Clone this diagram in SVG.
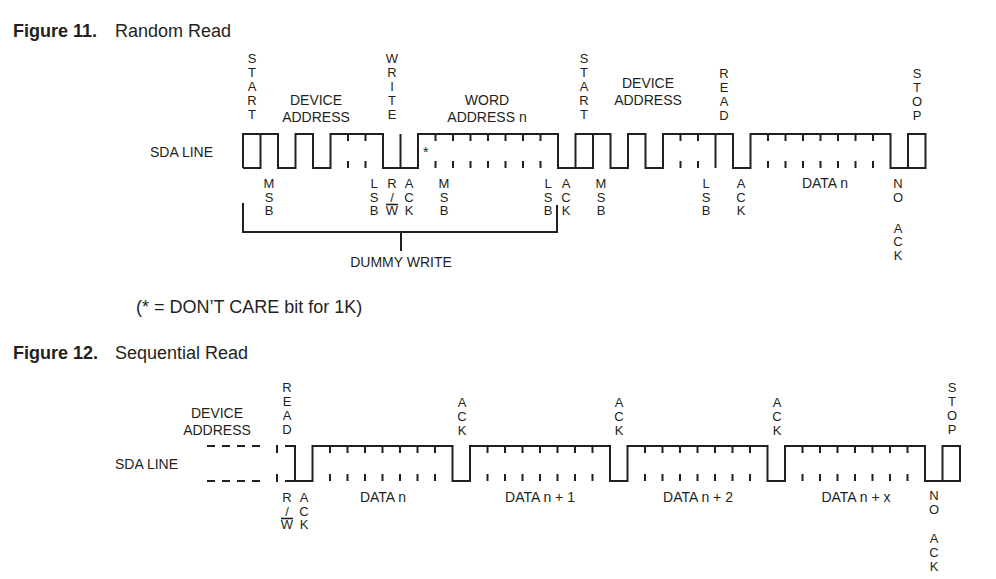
<svg xmlns="http://www.w3.org/2000/svg" width="996" height="579" viewBox="0 0 996 579">
<style>
text{font-family:"Liberation Sans",Arial,sans-serif;fill:#231f20}
.t{font-size:18px}
.b{font-weight:bold}
.l{font-size:14px}
.v{font-size:13px;text-anchor:middle}
.m{text-anchor:middle}
.sig{fill:none;stroke:#231f20;stroke-width:2}
.thin{fill:none;stroke:#231f20;stroke-width:2}
.dash{fill:none;stroke:#231f20;stroke-width:2;stroke-dasharray:8 7}
</style>
<rect width="996" height="579" fill="#fff"/>
<g id="titles">
<text class="t" x="13" y="37"><tspan class="b">Figure 11.</tspan><tspan x="115">Random Read</tspan></text>
<text class="t" x="136" y="313">(* = DON’T CARE bit for 1K)</text>
<text class="t" x="13" y="359"><tspan class="b">Figure 12.</tspan><tspan x="115">Sequential Read</tspan></text>
</g>
<g id="fig11-signal">
<path class="sig" d="M243 168V134H278V168H295.5V134H313V168H330.5V134H383V168H418V134H558V168H575.5V134H610.5V168H628V134H645.5V168H663V134H733V168H750.5V134H890.5V168H925.5V134H908V168M243 168H260.5V134M400.5 134V168M575.5 168H593V134M715.5 134V168"/>
<path class="thin" d="M348 134v7M348 168v-7M365.5 134v7M365.5 168v-7M435.5 134v7M435.5 168v-7M453 134v7M453 168v-7M470.5 134v7M470.5 168v-7M488 134v7M488 168v-7M505.5 134v7M505.5 168v-7M523 134v7M523 168v-7M540.5 134v7M540.5 168v-7M680.5 134v7M680.5 168v-7M698 134v7M698 168v-7M768 134v7M768 168v-7M785.5 134v7M785.5 168v-7M803 134v7M803 168v-7M820.5 134v7M820.5 168v-7M838 134v7M838 168v-7M855.5 134v7M855.5 168v-7M873 134v7M873 168v-7"/>
</g>
<g id="fig11-bracket">
<path class="sig" d="M243 203V232H557V205M401 232V251"/>
<text class="l m" x="401" y="267">DUMMY WRITE</text>
</g>
<g id="fig11-labels">
<text class="l" x="150" y="157">SDA LINE</text>
<text class="l m" x="316" y="105">DEVICE</text><text class="l m" x="316" y="122">ADDRESS</text>
<text class="l m" x="487" y="105">WORD</text><text class="l m" x="487" y="122">ADDRESS n</text>
<text class="l m" x="648" y="88">DEVICE</text><text class="l m" x="648" y="105">ADDRESS</text>
<text class="l" x="423" y="157">*</text>
<text class="l m" x="825" y="188">DATA n</text>
<text class="v" y="63"><tspan x="252">S</tspan><tspan x="252" dy="14">T</tspan><tspan x="252" dy="14">A</tspan><tspan x="252" dy="14">R</tspan><tspan x="252" dy="14">T</tspan></text>
<text class="v" y="63"><tspan x="392">W</tspan><tspan x="392" dy="14">R</tspan><tspan x="392" dy="14">I</tspan><tspan x="392" dy="14">T</tspan><tspan x="392" dy="14">E</tspan></text>
<text class="v" y="63"><tspan x="584">S</tspan><tspan x="584" dy="14">T</tspan><tspan x="584" dy="14">A</tspan><tspan x="584" dy="14">R</tspan><tspan x="584" dy="14">T</tspan></text>
<text class="v" y="78"><tspan x="724">R</tspan><tspan x="724" dy="14">E</tspan><tspan x="724" dy="14">A</tspan><tspan x="724" dy="14">D</tspan></text>
<text class="v" y="78"><tspan x="917">S</tspan><tspan x="917" dy="14">T</tspan><tspan x="917" dy="14">O</tspan><tspan x="917" dy="14">P</tspan></text>
<text class="v" y="188"><tspan x="269">M</tspan><tspan x="269" dy="13.5">S</tspan><tspan x="269" dy="13.5">B</tspan></text>
<text class="v" y="188"><tspan x="374">L</tspan><tspan x="374" dy="13.5">S</tspan><tspan x="374" dy="13.5">B</tspan></text>
<text class="v" y="188"><tspan x="392">R</tspan><tspan x="392" dy="13.5">/</tspan><tspan x="392" dy="13.5">W</tspan></text>
<path class="sig" d="M386 204.5H398" style="stroke-width:1.6"/>
<text class="v" y="188"><tspan x="409">A</tspan><tspan x="409" dy="13.5">C</tspan><tspan x="409" dy="13.5">K</tspan></text>
<text class="v" y="188"><tspan x="444">M</tspan><tspan x="444" dy="13.5">S</tspan><tspan x="444" dy="13.5">B</tspan></text>
<text class="v" y="188"><tspan x="548">L</tspan><tspan x="548" dy="13.5">S</tspan><tspan x="548" dy="13.5">B</tspan></text>
<text class="v" y="188"><tspan x="566">A</tspan><tspan x="566" dy="13.5">C</tspan><tspan x="566" dy="13.5">K</tspan></text>
<text class="v" y="188"><tspan x="601">M</tspan><tspan x="601" dy="13.5">S</tspan><tspan x="601" dy="13.5">B</tspan></text>
<text class="v" y="188"><tspan x="706">L</tspan><tspan x="706" dy="13.5">S</tspan><tspan x="706" dy="13.5">B</tspan></text>
<text class="v" y="188"><tspan x="741">A</tspan><tspan x="741" dy="13.5">C</tspan><tspan x="741" dy="13.5">K</tspan></text>
<text class="v" y="188"><tspan x="898">N</tspan><tspan x="898" dy="13.5">O</tspan><tspan x="898" dy="31">A</tspan><tspan x="898" dy="13.5">C</tspan><tspan x="898" dy="13.5">K</tspan></text>
</g>
<g id="fig12-signal">
<path class="dash" d="M207 446H260V453M277 453V446H285M207 481H260V474M277 474V481H285"/>
<path class="sig" d="M285 446H295V481H312.5V446H452.5V481H470V446H610V481H627.5V446H767.5V481H785V446H925V481H960V446H942.5V481M285 481H295"/>
<path class="thin" d="M330 446v7M330 481v-7M347.5 446v7M347.5 481v-7M365 446v7M365 481v-7M382.5 446v7M382.5 481v-7M400 446v7M400 481v-7M417.5 446v7M417.5 481v-7M435 446v7M435 481v-7M487.5 446v7M487.5 481v-7M505 446v7M505 481v-7M522.5 446v7M522.5 481v-7M540 446v7M540 481v-7M557.5 446v7M557.5 481v-7M575 446v7M575 481v-7M592.5 446v7M592.5 481v-7M645 446v7M645 481v-7M662.5 446v7M662.5 481v-7M680 446v7M680 481v-7M697.5 446v7M697.5 481v-7M715 446v7M715 481v-7M732.5 446v7M732.5 481v-7M750 446v7M750 481v-7M802.5 446v7M802.5 481v-7M820 446v7M820 481v-7M837.5 446v7M837.5 481v-7M855 446v7M855 481v-7M872.5 446v7M872.5 481v-7M890 446v7M890 481v-7M907.5 446v7M907.5 481v-7"/>
</g>
<g id="fig12-labels">
<text class="l" x="115" y="469">SDA LINE</text>
<text class="l m" x="217" y="418">DEVICE</text><text class="l m" x="217" y="435">ADDRESS</text>
<text class="v" y="392"><tspan x="287">R</tspan><tspan x="287" dy="14">E</tspan><tspan x="287" dy="14">A</tspan><tspan x="287" dy="14">D</tspan></text>
<text class="v" y="407"><tspan x="462">A</tspan><tspan x="462" dy="14">C</tspan><tspan x="462" dy="14">K</tspan></text>
<text class="v" y="407"><tspan x="619">A</tspan><tspan x="619" dy="14">C</tspan><tspan x="619" dy="14">K</tspan></text>
<text class="v" y="407"><tspan x="777">A</tspan><tspan x="777" dy="14">C</tspan><tspan x="777" dy="14">K</tspan></text>
<text class="v" y="392"><tspan x="952">S</tspan><tspan x="952" dy="14">T</tspan><tspan x="952" dy="14">O</tspan><tspan x="952" dy="14">P</tspan></text>
<text class="v" y="502"><tspan x="287">R</tspan><tspan x="287" dy="13.5">/</tspan><tspan x="287" dy="13.5">W</tspan></text>
<path class="sig" d="M281 518.5H293" style="stroke-width:1.6"/>
<text class="v" y="502"><tspan x="304">A</tspan><tspan x="304" dy="13.5">C</tspan><tspan x="304" dy="13.5">K</tspan></text>
<text class="l m" x="383" y="502">DATA n</text>
<text class="l m" x="540" y="502">DATA n + 1</text>
<text class="l m" x="698" y="502">DATA n + 2</text>
<text class="l m" x="856" y="502">DATA n + x</text>
<text class="v" y="500"><tspan x="934">N</tspan><tspan x="934" dy="14">O</tspan><tspan x="934" dy="29">A</tspan><tspan x="934" dy="14">C</tspan><tspan x="934" dy="14">K</tspan></text>
</g>
</svg>
